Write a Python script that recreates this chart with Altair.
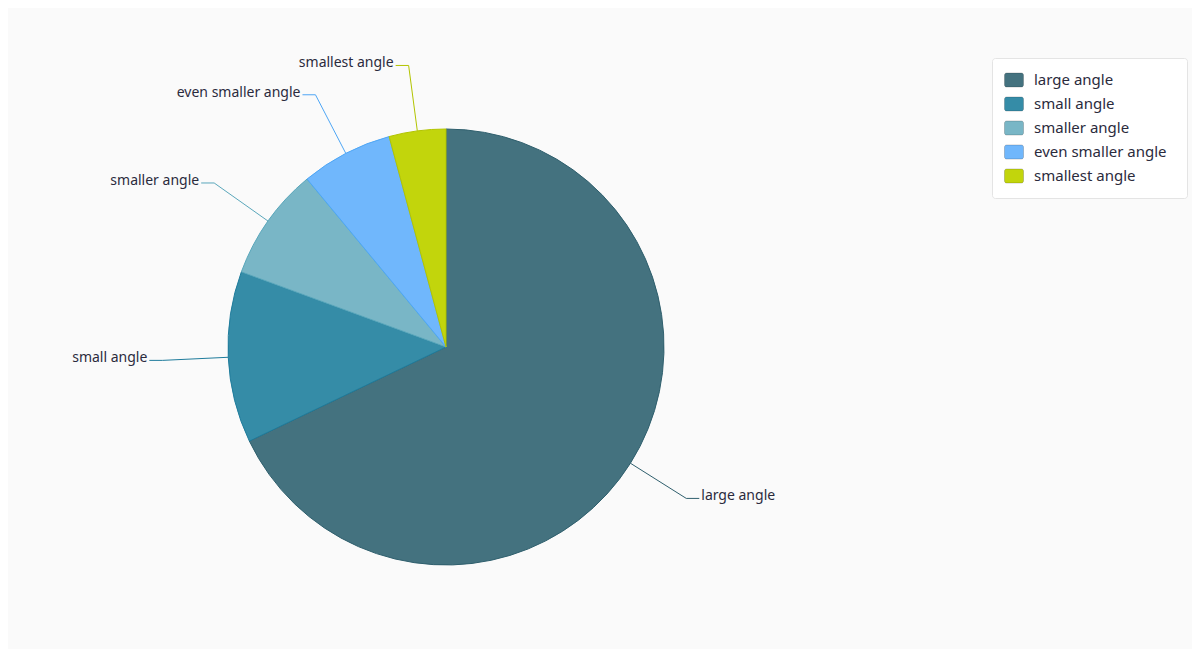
import altair as alt
import pandas as pd

categories = ["large angle", "small angle", "smaller angle", "even smaller angle", "smallest angle"]
values = [67.9, 12.7, 8.4, 6.8, 4.2]
fill_colors = ["#44727f", "#358ca7", "#79b6c6", "#70b7fc", "#c2d50c"]
line_colors = ["#2f5f6d", "#1f7c9c", "#5aa7bb", "#4ea6f5", "#b2c400"]

df = pd.DataFrame({"category": categories, "value": values})

CX, CY, R, R2, H = 438, 339, 218, 284, 13
FONT = "Noto Sans"
TEXT_COLOR = "#2b2b3d"

base = alt.Chart(df)

color_scale = alt.Scale(domain=categories, range=fill_colors)
stroke_scale = alt.Scale(domain=categories, range=line_colors)

rounded = ("M-0.78,-0.74 L0.78,-0.74 A0.22,0.22 0 0 1 1,-0.52 L1,0.52 "
           "A0.22,0.22 0 0 1 0.78,0.74 L-0.78,0.74 A0.22,0.22 0 0 1 -1,0.52 "
           "L-1,-0.52 A0.22,0.22 0 0 1 -0.78,-0.74 Z")

legend = alt.Legend(title="\u00a0", titleOrient="right", titlePadding=8, titleFontSize=10,
                    orient="none", legendX=984, legendY=50)

pie = base.mark_arc(radius=R, strokeWidth=1).encode(
    theta=alt.Theta("value:Q", stack=True),
    order=alt.Order("value:Q", sort="descending"),
    x=alt.value(CX),
    y=alt.value(CY),
    color=alt.Color("category:N", scale=color_scale, sort=categories, legend=legend),
    stroke=alt.Stroke("category:N", scale=stroke_scale, sort=categories, legend=None),
)

geo = base.transform_joinaggregate(total="sum(value)").transform_window(
    cum="sum(value)", sort=[alt.SortField("value", order="descending")]
).transform_calculate(
    mid="(datum.cum - datum.value/2) / datum.total * 2 * PI",
).transform_calculate(
    x0=f"{CX} + {R}*sin(datum.mid)",
    y0=f"{CY} - {R}*cos(datum.mid)",
    x1=f"{CX} + {R2}*sin(datum.mid)",
    y1=f"{CY} - {R2}*cos(datum.mid)",
    side="sin(datum.mid) >= 0 ? 1 : -1",
).transform_calculate(
    x2=f"datum.x1 + datum.side*{H}",
)

diag = geo.mark_rule(strokeWidth=1).encode(
    x=alt.X("x0:Q", scale=None), y=alt.Y("y0:Q", scale=None),
    x2="x1:Q", y2="y1:Q",
    color=alt.Color("category:N", scale=stroke_scale, legend=None),
)
horiz = geo.mark_rule(strokeWidth=1).encode(
    x=alt.X("x1:Q", scale=None), y=alt.Y("y1:Q", scale=None),
    x2="x2:Q", y2="y1:Q",
    color=alt.Color("category:N", scale=stroke_scale, legend=None),
)

right_text = geo.transform_filter("datum.side > 0").mark_text(
    align="left", baseline="middle", dx=2, dy=-2, fontSize=14, font=FONT, color=TEXT_COLOR
).encode(x=alt.X("x2:Q", scale=None), y=alt.Y("y1:Q", scale=None), text="category:N")

left_text = geo.transform_filter("datum.side < 0").mark_text(
    align="right", baseline="middle", dx=-2, dy=-2, fontSize=14, font=FONT, color=TEXT_COLOR
).encode(x=alt.X("x2:Q", scale=None), y=alt.Y("y1:Q", scale=None), text="category:N")

chart = alt.layer(pie, diag, horiz, right_text, left_text).resolve_scale(
    color="independent"
).properties(
    width=1184, height=641, autosize=alt.AutoSizeParams(type="none"), padding=0,
    background="#fafafa",
).configure_view(stroke=None).configure_legend(
    labelFont=FONT, labelFontSize=15, labelColor=TEXT_COLOR,
    symbolType=rounded, symbolSize=361, symbolStrokeWidth=1,
    symbolStrokeColor="rgba(0,0,0,0.18)",
    padding=12, rowPadding=4, labelOffset=10,
    fillColor="#ffffff", strokeColor="#e4e4e4", cornerRadius=3,
)

chart.save("out.html", embed_options={"renderer": "svg", "actions": False})
